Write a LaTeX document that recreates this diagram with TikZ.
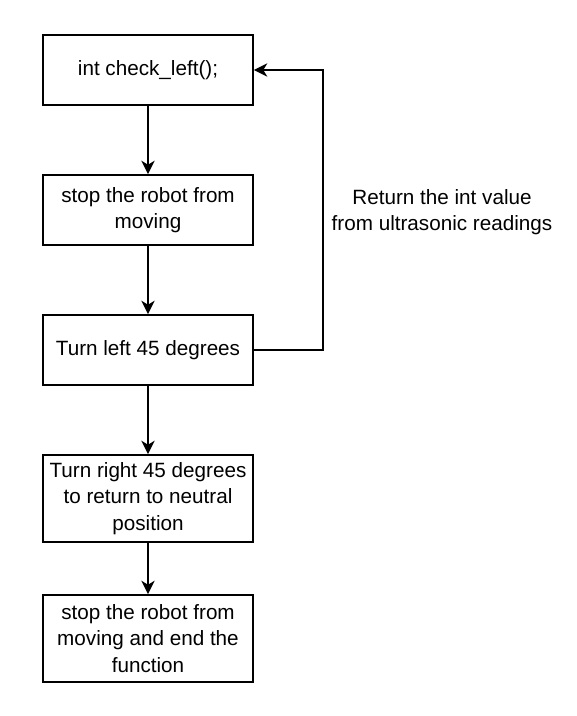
\documentclass[tikz,border=0pt]{standalone}
\usepackage{fontspec}
\setmainfont{Liberation Sans}
\usepackage{tikz}
\usetikzlibrary{arrows.meta,positioning}
\tikzset{
    stepbox/.style={
    rectangle,draw=black,line width=1.4pt,minimum width=157.5pt,align=center,inner sep=2pt
    },
    shortbox/.style={
    stepbox,minimum height=52.5pt
    },
    tallbox/.style={
    stepbox,minimum height=65.25pt
    },
    flow/.style={
    -{Stealth[length=10pt,width=10pt,inset=3pt]},line width=1.4pt
    },
}

\begin{document}
\begin{tikzpicture}[x=0.75pt, y=-0.75pt, font=\fontsize{15.5}{20}\selectfont]
   \useasboundingbox (0,0) rectangle (576,716);
   \node[shortbox] (check) at (148,70) {int check\_left();};
   \node[shortbox] (stop) at (148,210) {stop the robot from\\moving};
   \node[shortbox] (turnleft) at (148,350) {Turn left 45 degrees};
   \node[tallbox] (turnright) at (148,498.5) {Turn right 45 degrees\\to return to neutral\\position};
   \node[tallbox] (finish) at (148,638.5) {stop the robot from\\moving and end the\\function};
   \node[align=center] (retlabel) at (442,212) {Return the int value\\from ultrasonic readings};
   \coordinate (corner) at (323,70);

  \path[flow]
    (check) edge (stop)
    (stop) edge (turnleft)
    (turnleft) edge (turnright)
    (turnright) edge (finish);
  \draw[flow] (turnleft.east) -| (corner) -- (check.east);
  \end{tikzpicture}
\end{document}
